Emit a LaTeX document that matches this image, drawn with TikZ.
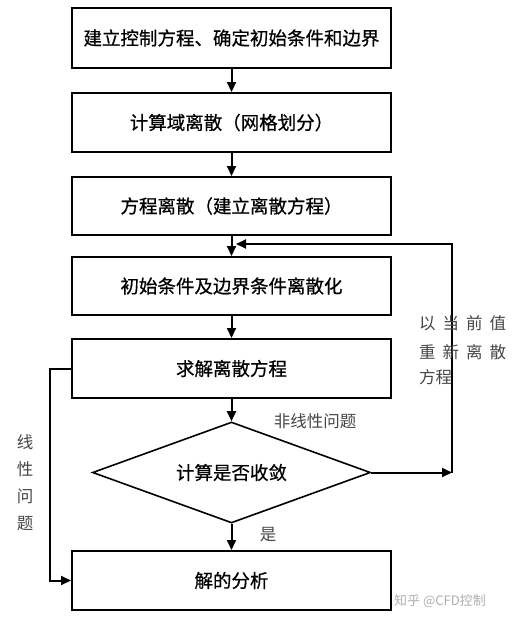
\documentclass[tikz,border=0pt]{standalone}
\usepackage{fontspec}
\setmainfont{Noto Sans CJK SC}
\newfontfamily\boxfont[FakeBold=0.6]{Noto Sans CJK SC}
\usetikzlibrary{shapes.geometric,arrows.meta}
\definecolor{lblgray}{RGB}{70,70,70}
\definecolor{wmgray}{RGB}{175,175,175}
\begin{document}
\begin{tikzpicture}[x=1pt,y=-1pt,
  box/.style={draw=black,line width=2pt,minimum width=319pt,minimum height=58pt,inner sep=0pt,
    font=\boxfont\fontsize{18.5}{22}\selectfont},
  decide/.style={draw=black,line width=1.6pt,shape=diamond,minimum width=278pt,minimum height=101pt,
    inner sep=0pt,aspect=2.75,font=\boxfont\fontsize{18.5}{22}\selectfont},
  arr/.style={line width=2pt,-{Triangle[length=10pt,width=9pt]}},
  lbl/.style={text=lblgray,inner sep=0pt,font=\fontsize{16.5}{20}\selectfont}]
\useasboundingbox[fill=white] (0,0) rectangle (516,619);

\node[box,minimum height=60pt] (b1) at (231.5,38) {建立控制方程、确定初始条件和边界};
\node[box,minimum height=59pt] (b2) at (231.5,122.5) {计算域离散（网格划分）};
\node[box] (b3) at (231.5,206) {方程离散（建立离散方程）};
\node[box] (b4) at (231.5,286) {初始条件及边界条件离散化};
\node[box,minimum height=59pt] (b5) at (231.5,368.5) {求解离散方程};
\node[decide] (d) at (231.5,472.5) {计算是否收敛};
\node[box,minimum height=59pt] (b6) at (231.5,580.5) {解的分析};

\draw[arr] (b1) -- (b2);
\draw[arr] (b2) -- (b3);
\draw[arr] (b3) -- (b4);
\draw[arr] (b4) -- (b5);
\draw[arr] (b5) -- (d);
\draw[arr] (d) -- (b6);

% nonlinear loop
\coordinate (fb) at (236,244);
\coordinate (r1) at (452,472.5);
\draw[arr] (d.east) -- (r1);
\draw[arr] (r1) -- (r1 |- fb) -- (fb);

% linear bypass
\coordinate (l1) at (50,368.5);
\draw[arr] (b5.west) -- (l1) |- (b6.west);

% labels
\node[lbl] (t1) at (315,421) {非线性问题};
\node[lbl] (t2) at (268,535) {是};
\node[lbl,align=center,font=\fontsize{16.5}{27}\selectfont] (t3) at (25,483) {线\\性\\问\\题};
\node[lbl,anchor=west] (t4) at (419,323) {以\kern7pt 当\kern7pt 前\kern7pt 值};
\node[lbl,anchor=west] (t5) at (419,352) {重\kern7pt 新\kern7pt 离\kern7pt 散};
\node[lbl,anchor=west] (t6) at (419,377) {方程};

% watermark
\node[text=wmgray,inner sep=0pt,anchor=west,font=\fontsize{13}{15}\selectfont] (wm) at (394,601) {知乎 @CFD控制};
\end{tikzpicture}
\end{document}
